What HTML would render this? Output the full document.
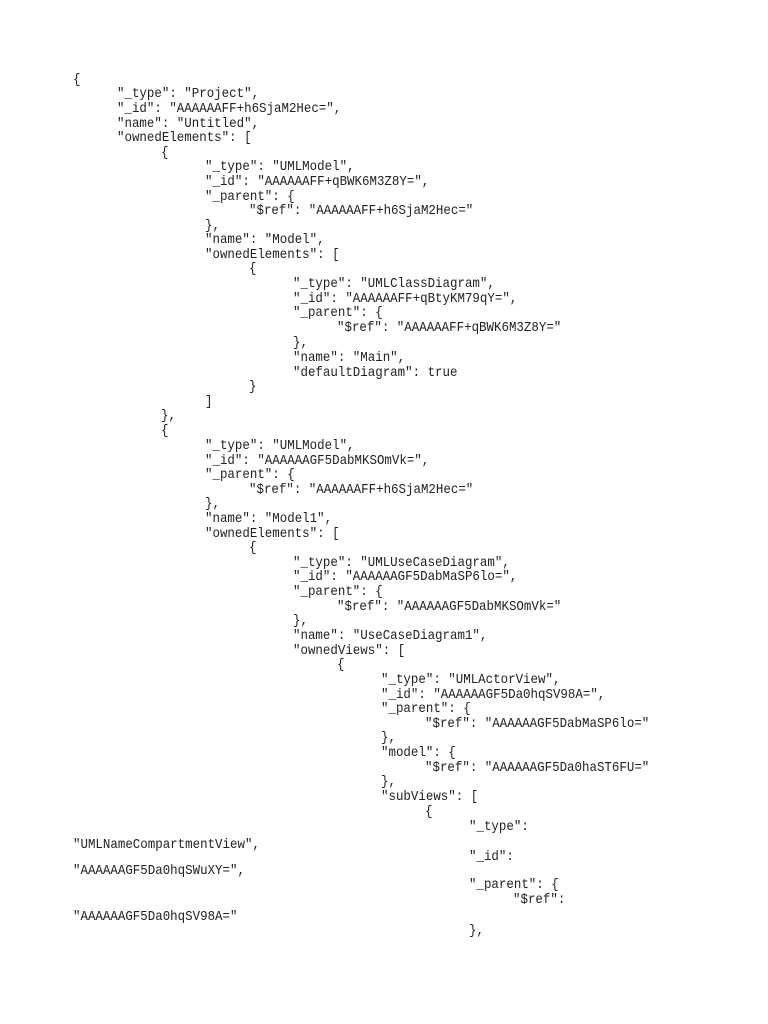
<!DOCTYPE html>
<html><head><meta charset="utf-8"><style>
html,body{margin:0;padding:0;background:#fff;width:768px;height:1024px;overflow:hidden;position:relative}
div{position:absolute;white-space:pre;font-family:"Liberation Mono",monospace;font-size:13.75px;line-height:16px;color:#222;transform:scaleX(0.906);transform-origin:0 0;margin-top:1px}
</style></head><body>
<div style="left:73px;top:72px">{</div>
<div style="left:117px;top:86px">"_type": "Project",</div>
<div style="left:117px;top:101px">"_id": "AAAAAAFF+h6SjaM2Hec=",</div>
<div style="left:117px;top:116px">"name": "Untitled",</div>
<div style="left:117px;top:130px">"ownedElements": [</div>
<div style="left:161px;top:145px">{</div>
<div style="left:205px;top:159px">"_type": "UMLModel",</div>
<div style="left:205px;top:174px">"_id": "AAAAAAFF+qBWK6M3Z8Y=",</div>
<div style="left:205px;top:189px">"_parent": {</div>
<div style="left:249px;top:203px">"$ref": "AAAAAAFF+h6SjaM2Hec="</div>
<div style="left:205px;top:218px">},</div>
<div style="left:205px;top:232px">"name": "Model",</div>
<div style="left:205px;top:247px">"ownedElements": [</div>
<div style="left:249px;top:261px">{</div>
<div style="left:293px;top:276px">"_type": "UMLClassDiagram",</div>
<div style="left:293px;top:291px">"_id": "AAAAAAFF+qBtyKM79qY=",</div>
<div style="left:293px;top:305px">"_parent": {</div>
<div style="left:337px;top:320px">"$ref": "AAAAAAFF+qBWK6M3Z8Y="</div>
<div style="left:293px;top:335px">},</div>
<div style="left:293px;top:350px">"name": "Main",</div>
<div style="left:293px;top:365px">"defaultDiagram": true</div>
<div style="left:249px;top:379px">}</div>
<div style="left:205px;top:394px">]</div>
<div style="left:161px;top:408px">},</div>
<div style="left:161px;top:423px">{</div>
<div style="left:205px;top:438px">"_type": "UMLModel",</div>
<div style="left:205px;top:453px">"_id": "AAAAAAGF5DabMKSOmVk=",</div>
<div style="left:205px;top:467px">"_parent": {</div>
<div style="left:249px;top:482px">"$ref": "AAAAAAFF+h6SjaM2Hec="</div>
<div style="left:205px;top:496px">},</div>
<div style="left:205px;top:511px">"name": "Model1",</div>
<div style="left:205px;top:526px">"ownedElements": [</div>
<div style="left:249px;top:540px">{</div>
<div style="left:293px;top:555px">"_type": "UMLUseCaseDiagram",</div>
<div style="left:293px;top:569px">"_id": "AAAAAAGF5DabMaSP6lo=",</div>
<div style="left:293px;top:584px">"_parent": {</div>
<div style="left:337px;top:599px">"$ref": "AAAAAAGF5DabMKSOmVk="</div>
<div style="left:293px;top:613px">},</div>
<div style="left:293px;top:628px">"name": "UseCaseDiagram1",</div>
<div style="left:293px;top:643px">"ownedViews": [</div>
<div style="left:337px;top:657px">{</div>
<div style="left:381px;top:672px">"_type": "UMLActorView",</div>
<div style="left:381px;top:687px">"_id": "AAAAAAGF5Da0hqSV98A=",</div>
<div style="left:381px;top:701px">"_parent": {</div>
<div style="left:425px;top:716px">"$ref": "AAAAAAGF5DabMaSP6lo="</div>
<div style="left:381px;top:730px">},</div>
<div style="left:381px;top:745px">"model": {</div>
<div style="left:425px;top:760px">"$ref": "AAAAAAGF5Da0haST6FU="</div>
<div style="left:381px;top:774px">},</div>
<div style="left:381px;top:789px">"subViews": [</div>
<div style="left:425px;top:804px">{</div>
<div style="left:469px;top:819px">"_type":</div>
<div style="left:73px;top:837px">"UMLNameCompartmentView",</div>
<div style="left:469px;top:849px">"_id":</div>
<div style="left:73px;top:863px">"AAAAAAGF5Da0hqSWuXY=",</div>
<div style="left:469px;top:877px">"_parent": {</div>
<div style="left:513px;top:892px">"$ref":</div>
<div style="left:73px;top:909px">"AAAAAAGF5Da0hqSV98A="</div>
<div style="left:469px;top:923px">},</div>
</body></html>
